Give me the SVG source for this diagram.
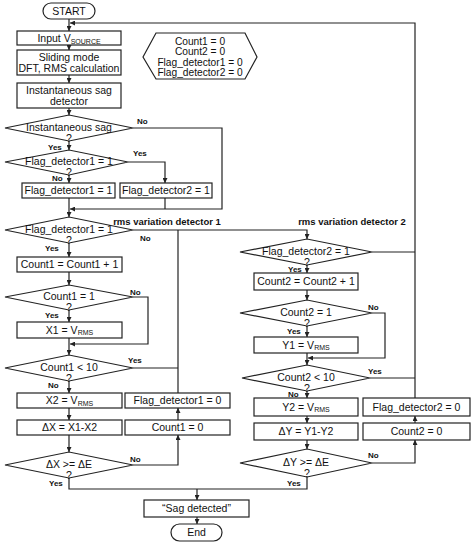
<svg xmlns="http://www.w3.org/2000/svg" width="474" height="545" viewBox="0 0 474 545">
<defs>
<style>
.s{fill:#fff;stroke:#222;stroke-width:1.2}
.c{fill:none;stroke:#222;stroke-width:1.2}
.t{font-family:"Liberation Sans",Arial,sans-serif;font-size:10.5px;fill:#111;text-anchor:middle}
.hx{font-size:10.2px}
.l{font-family:"Liberation Sans",Arial,sans-serif;font-size:8px;font-weight:bold;fill:#111}
.h{font-family:"Liberation Sans",Arial,sans-serif;font-size:9.5px;font-weight:bold;fill:#111;text-anchor:middle}
.sub{font-size:7px}
</style>
<marker id="ah" viewBox="0 0 10 10" refX="10" refY="5" markerWidth="6" markerHeight="5" orient="auto" markerUnits="userSpaceOnUse"><path d="M0,0 L10,5 L0,10 z" fill="#222"/></marker>
</defs>
<rect width="474" height="545" fill="#fff"/>
<g id="connectors" class="c" marker-end="url(#ah)">
<path d="M69,19 V31"/>
<path d="M415,398 V23 H70"/>
<path d="M69,45 V50"/>
<path d="M69,75 V83"/>
<path d="M69,108 V115"/>
<path d="M69,141 V150"/>
<path d="M133,128 H222 V209 H70"/>
<path d="M128,162 H165 V183"/>
<path d="M69,175 V183"/>
<path d="M69,198 V217"/>
<path d="M165,198 V209" marker-end="none"/>
<path d="M133,230 H307 V239"/>
<path d="M178,230 V393" marker-end="none"/>
<path d="M69,243 V257"/>
<path d="M69,272 V285"/>
<path d="M133,297 H148 V344 H70"/>
<path d="M69,310 V322"/>
<path d="M69,338 V355"/>
<path d="M133,368 H178" marker-end="none"/>
<path d="M69,381 V393"/>
<path d="M69,408 V420"/>
<path d="M69,435 V452"/>
<path d="M133,465 H178 V435"/>
<path d="M178,420 V408"/>
<path d="M69,478 V489 H307 V477" marker-end="none"/>
<path d="M197,489 V500"/>
<path d="M197,517 V524"/>
<path d="M372,252 H415" marker-end="none"/>
<path d="M307,265 V273"/>
<path d="M307,290 V300"/>
<path d="M372,313 H385 V358 H308"/>
<path d="M307,326 V337"/>
<path d="M307,353 V365"/>
<path d="M370,378 H415" marker-end="none"/>
<path d="M307,391 V398"/>
<path d="M307,416 V423"/>
<path d="M307,440 V449"/>
<path d="M372,463 H415 V440"/>
<path d="M415,423 V416"/>
</g>
<g id="labels">
<text class="l" x="137" y="124">No</text>
<text class="l" x="48" y="150">Yes</text>
<text class="l" x="133" y="156">Yes</text>
<text class="l" x="52" y="181">No</text>
<text class="l" x="140" y="241">No</text>
<text class="l" x="45" y="251">Yes</text>
<text class="l" x="130" y="295">No</text>
<text class="l" x="45" y="318">Yes</text>
<text class="l" x="128" y="363">Yes</text>
<text class="l" x="48" y="388">No</text>
<text class="l" x="130" y="462">No</text>
<text class="l" x="49" y="486">Yes</text>
<text class="l" x="288" y="272">Yes</text>
<text class="l" x="368" y="310">No</text>
<text class="l" x="287" y="334">Yes</text>
<text class="l" x="368" y="374">Yes</text>
<text class="l" x="288" y="397">No</text>
<text class="l" x="368" y="458">No</text>
<text class="l" x="287" y="486">Yes</text>
<text class="h" x="167" y="225">rms variation detector 1</text>
<text class="h" x="352" y="225">rms variation detector 2</text>
</g>
<g id="start"><rect class="s" x="43" y="3" width="52" height="16" rx="8"/><text class="t" x="69" y="15">START</text></g>
<g id="init"><polygon class="s" points="143,57 156,33 245,33 257,57 245,79 156,79"/>
<text class="t hx" x="200" y="44.8">Count1 = 0</text><text class="t hx" x="200" y="55.3">Count2 = 0</text><text class="t hx" x="200" y="65.8">Flag_detector1 = 0</text><text class="t hx" x="200" y="76.3">Flag_detector2 = 0</text></g>
<g id="input"><rect class="s" x="17" y="31" width="104" height="14"/><text class="t" x="69" y="42">Input V<tspan class="sub" dy="2">SOURCE</tspan></text></g>
<g id="dft"><rect class="s" x="17" y="50" width="104" height="25"/><text class="t" x="69" y="60.5">Sliding mode</text><text class="t" x="69" y="72">DFT, RMS calculation</text></g>
<g id="isd"><rect class="s" x="17" y="83" width="104" height="25"/><text class="t" x="69" y="93.5">Instantaneous sag</text><text class="t" x="69" y="105">detector</text></g>
<g id="d1"><polygon class="s" points="5,128 69,115 133,128 69,141"/><text class="t" x="69" y="130.5">Instantaneous sag</text><text class="t" x="69" y="142">?</text></g>
<g id="d2"><polygon class="s" points="5,162 69,150 128,162 69,175"/><text class="t" x="69" y="164.5">Flag_detector1 = 1</text><text class="t" x="69" y="176">?</text></g>
<g id="b1"><rect class="s" x="22" y="183" width="93" height="15"/><text class="t" x="68.5" y="194">Flag_detector1 = 1</text></g>
<g id="b2"><rect class="s" x="120" y="183" width="92" height="15"/><text class="t" x="166" y="194">Flag_detector2 = 1</text></g>
<g id="d3"><polygon class="s" points="5,230 69,217 133,230 69,243"/><text class="t" x="69" y="232.5">Flag_detector1 = 1</text><text class="t" x="69" y="244">?</text></g>
<g id="c1inc"><rect class="s" x="17" y="257" width="105" height="15"/><text class="t" x="69.5" y="268">Count1 = Count1 + 1</text></g>
<g id="d4"><polygon class="s" points="5,297 69,285 133,297 69,310"/><text class="t" x="69" y="299.5">Count1 = 1</text><text class="t" x="69" y="311">?</text></g>
<g id="x1"><rect class="s" x="17" y="322" width="105" height="16"/><text class="t" x="69.5" y="333.5">X1 = V<tspan class="sub" dy="1.5">RMS</tspan></text></g>
<g id="d5"><polygon class="s" points="5,368 69,355 133,368 69,381"/><text class="t" x="69" y="370.5">Count1 &lt; 10</text><text class="t" x="69" y="382">?</text></g>
<g id="x2"><rect class="s" x="17" y="393" width="105" height="15"/><text class="t" x="69.5" y="404">X2 = V<tspan class="sub" dy="1.5">RMS</tspan></text></g>
<g id="dx"><rect class="s" x="17" y="420" width="105" height="15"/><text class="t" x="69.5" y="431">ΔX = X1-X2</text></g>
<g id="f1z"><rect class="s" x="125" y="393" width="105" height="15"/><text class="t" x="177.5" y="404">Flag_detector1 = 0</text></g>
<g id="c1z"><rect class="s" x="125" y="420" width="105" height="15"/><text class="t" x="177.5" y="431">Count1 = 0</text></g>
<g id="d6"><polygon class="s" points="5,465 69,452 133,465 69,478"/><text class="t" x="69" y="467.5">ΔX &gt;= ΔE</text><text class="t" x="69" y="479">?</text></g>
<g id="r1"><polygon class="s" points="240,252 307,239 372,252 307,265"/><text class="t" x="306" y="254.5">Flag_detector2 = 1</text><text class="t" x="307" y="266">?</text></g>
<g id="c2inc"><rect class="s" x="254" y="273" width="104" height="17"/><text class="t" x="306" y="285">Count2 = Count2 + 1</text></g>
<g id="r2"><polygon class="s" points="240,313 307,300 372,313 307,326"/><text class="t" x="306" y="315.5">Count2 = 1</text><text class="t" x="307" y="327">?</text></g>
<g id="y1"><rect class="s" x="254" y="337" width="104" height="16"/><text class="t" x="306" y="348.5">Y1 = V<tspan class="sub" dy="1.5">RMS</tspan></text></g>
<g id="r3"><polygon class="s" points="242,378 307,365 370,378 307,391"/><text class="t" x="306" y="380.5">Count2 &lt; 10</text><text class="t" x="307" y="392">?</text></g>
<g id="y2"><rect class="s" x="254" y="398" width="104" height="18"/><text class="t" x="306" y="410.5">Y2 = V<tspan class="sub" dy="1.5">RMS</tspan></text></g>
<g id="dy"><rect class="s" x="254" y="423" width="104" height="17"/><text class="t" x="306" y="435">ΔY = Y1-Y2</text></g>
<g id="f2z"><rect class="s" x="363" y="398" width="107" height="18"/><text class="t" x="416.5" y="410.5">Flag_detector2 = 0</text></g>
<g id="c2z"><rect class="s" x="363" y="423" width="107" height="17"/><text class="t" x="416.5" y="435">Count2 = 0</text></g>
<g id="r4"><polygon class="s" points="240,463 307,449 372,463 307,477"/><text class="t" x="306" y="465.5">ΔY &gt;= ΔE</text><text class="t" x="307" y="477">?</text></g>
<g id="sag"><rect class="s" x="144" y="500" width="105" height="17"/><text class="t" x="196.5" y="512">“Sag detected”</text></g>
<g id="end"><rect class="s" x="171" y="524" width="51" height="17" rx="8.5"/><text class="t" x="196.5" y="536">End</text></g>
</svg>
